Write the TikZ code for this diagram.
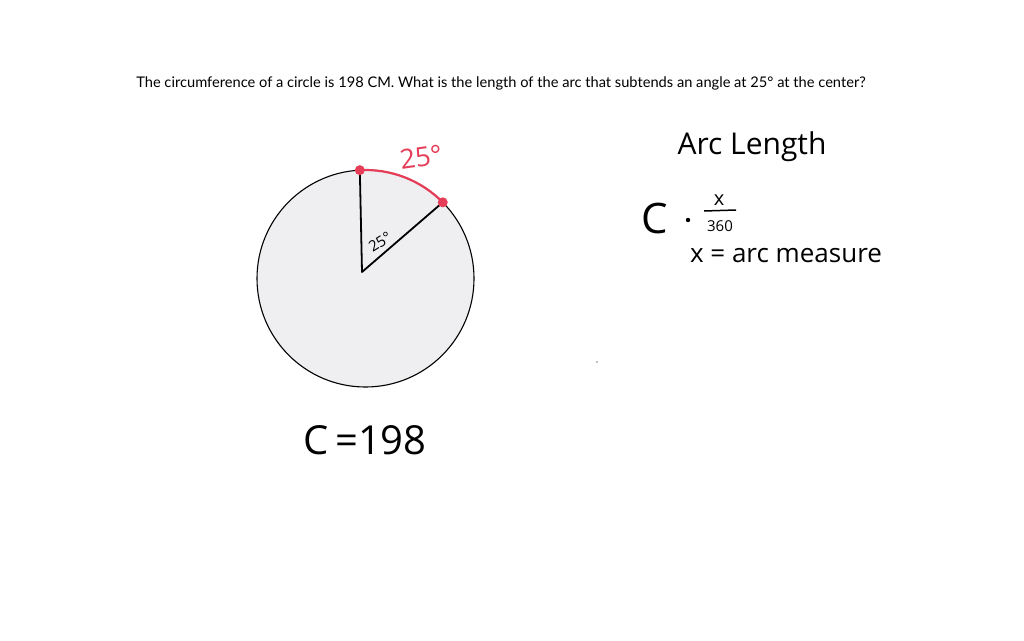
\documentclass[tikz,border=0pt]{standalone}
\usepackage{fontspec}
\usetikzlibrary{calc}
\setmainfont{Lato}
\newfontfamily\hand{Open Sans}
\definecolor{pinkred}{RGB}{230,62,88}
\definecolor{diskfill}{RGB}{239,238,241}
\tikzset{
  hw/.style={font=\hand, inner sep=0pt, anchor=center},
  ink/.style={line width=1.8pt, line cap=round, line join=round},
  reddot/.style={circle, fill=pinkred, inner sep=0pt, minimum size=10pt},
}
\begin{document}
\begin{tikzpicture}[x=1pt,y=-1pt]
\useasboundingbox[fill=white] (0,0) rectangle (1024,640);
% title
\node[font=\fontsize{14.65}{17}\selectfont, inner sep=0pt] (title) at (501,83)
  {The circumference of a circle is 198 CM. What is the length of the arc that subtends an angle at 25° at the center?};
% circle
\coordinate (O) at (365.5,278.5);
\draw[fill=diskfill, line width=1.1pt] (O) circle[radius=108.5];
\coordinate (ctr) at (362,272);
\coordinate (A) at ($(O)+(-93:108.5)$);
\coordinate (B) at ($(O)+(-44.6:108.5)$);
\draw[ink] (A) -- (ctr) -- (B);
\draw[pinkred, line width=2.2pt] (A) arc[start angle=-93, end angle=-44.6, radius=108.5];
\node[reddot] (dA) at (A) {};
\node[reddot] (dB) at (B) {};
\node[hw, text=pinkred, font=\hand\fontsize{27}{30}\selectfont, rotate=8] (redlbl) at (421,157) {25°};
\node[hw, font=\hand\fontsize{15}{18}\selectfont, rotate=32] (blklbl) at (380,242) {25°};
% formula
\node[hw, font=\hand\fontsize{40}{42}\selectfont] (C198) at (365,440) {C\,=198};
\node[hw, font=\hand\fontsize{30}{32}\selectfont] (arclen) at (752,147) {Arc Length};
\node[hw, font=\hand\fontsize{42}{44}\selectfont] (Cf) at (655,218) {C};
\fill (688,220) circle[radius=2.2];
\node[hw, font=\hand\fontsize{20}{22}\selectfont] (xnum) at (719,200) {x};
\draw[line width=1.5pt] (704,211) -- (736,210);
\node[hw, font=\hand\fontsize{15}{18}\selectfont] (den) at (720,226) {360};
\node[hw, font=\hand\fontsize{26}{28}\selectfont] (xdef) at (786,256) {x = arc measure};
\fill[gray] (597,362) circle[radius=0.9];
\end{tikzpicture}
\end{document}
